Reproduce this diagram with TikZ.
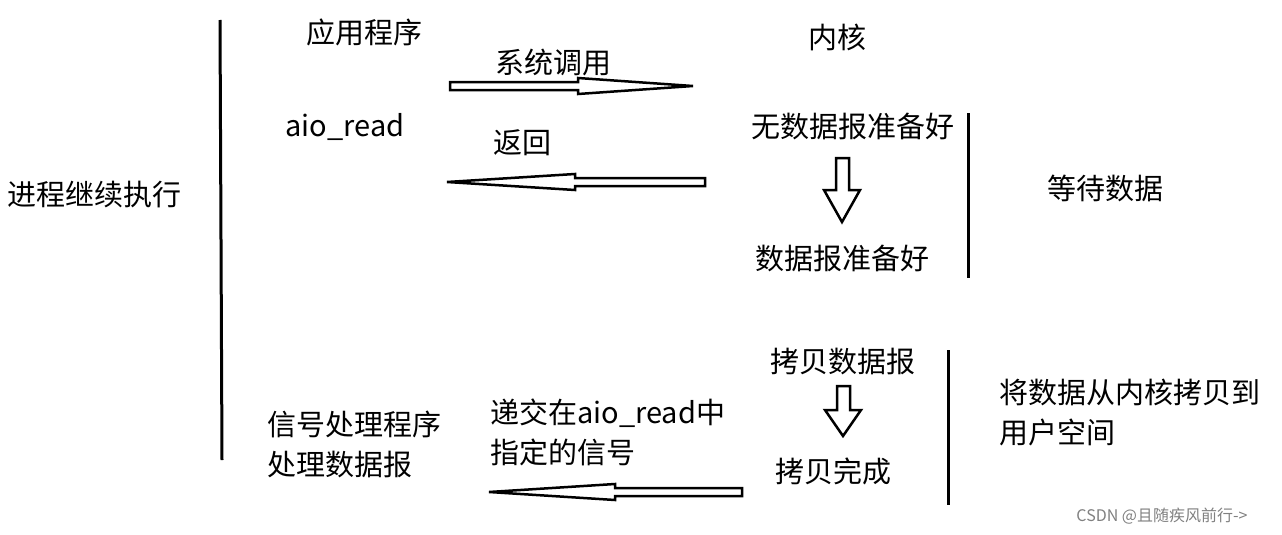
\documentclass[tikz,border=0pt]{standalone}
\usepackage{fontspec}
\setmainfont{Noto Sans CJK SC}
\tikzset{every picture/.style={line width=1pt}}
\tikzset{lbl/.style={inner sep=0.75pt,font=\fontsize{29}{40}\selectfont},
  lblw/.style={lbl,anchor=west,align=left},
  bar/.style={line width=3pt},
  harrow/.style={line width=2.5pt,line join=miter}}
\begin{document}
\begin{tikzpicture}[x=1pt,y=1pt,yscale=-1,xscale=1]
\useasboundingbox (0,0) rectangle (1282,535);

%Straight Lines
\draw [bar] (220,20) -- (222,460) ;
\draw [bar] (968,113) -- (968,278) ;
\draw [bar] (948,350) -- (948,505) ;

%Shape: Right Arrow (system call)
\draw [harrow] (450,82) -- (578,82) -- (578,78) -- (693,86) -- (578,94) -- (578,90) -- (450,90) -- cycle ;
%Shape: Left Arrow (return)
\draw [harrow] (705,178) -- (575,178) -- (575,174) -- (447,182) -- (575,190) -- (575,186) -- (705,186) -- cycle ;
%Shape: Left Arrow (signal)
\draw [harrow] (742,488) -- (615,488) -- (615,484) -- (489,492) -- (615,500) -- (615,496) -- (742,496) -- cycle ;
%Shape: Down Arrow (wait)
\draw [harrow] (836,158) -- (849,158) -- (849,190) -- (860,190) -- (842,222) -- (824,190) -- (836,190) -- cycle ;
%Shape: Down Arrow (copy)
\draw [harrow] (837,386) -- (850,386) -- (850,410) -- (861,410) -- (843,436) -- (825,410) -- (837,410) -- cycle ;

% Text Node
\node [lbl] (proc) at (94,195) {进程继续执行};
\node [lbl] (app) at (364,32) {应用程序};
\node [lbl] (kern) at (837,37) {内核};
\node [lbl] (call) at (553,62) {系统调用};
\node [lbl] (aio) at (345,127) {aio\_read};
\node [lbl] (ret) at (522,143) {返回};
\node [lbl] (nodata) at (853,126) {无数据报准备好};
\node [lbl] (ready) at (842,258) {数据报准备好};
\node [lbl] (wait) at (1105,188) {等待数据};
\node [lbl] (copy) at (843,362) {拷贝数据报};
\node [lbl] (done) at (833,471) {拷贝完成};
\node [lblw] (tocopy) at (998,413) {将数据从内核拷贝到\\用户空间};
\node [lblw] (handler) at (266,444) {信号处理程序\\处理数据报};
\node [lblw] (deliver) at (489,432) {递交在aio\_read中\\指定的信号};
\node [inner sep=0.75pt,text=gray,font=\fontsize{16}{18}\selectfont] (mark) at (1162,516) {CSDN @且随疾风前行->};
\end{tikzpicture}
\end{document}
